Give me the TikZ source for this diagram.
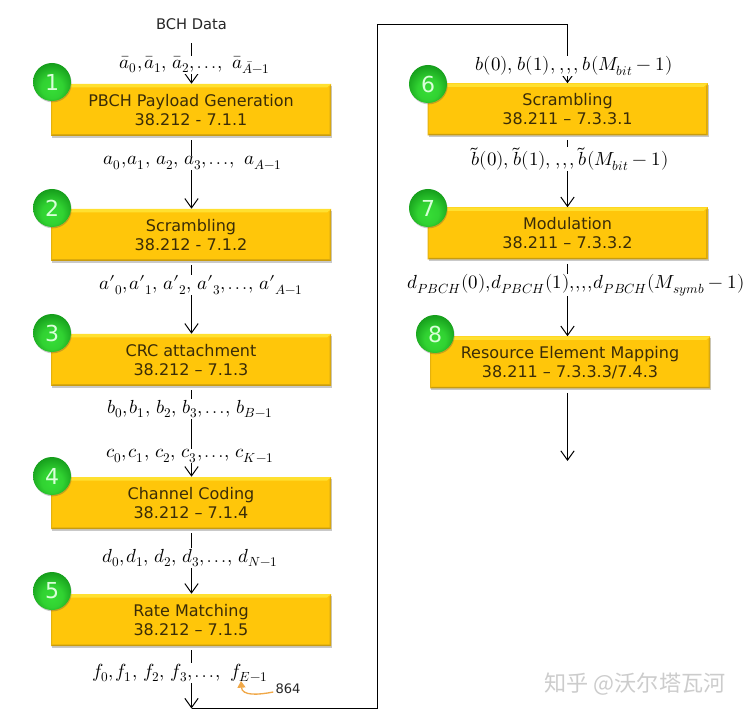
\documentclass[tikz,border=0pt]{standalone}
\usepackage{fontspec}
\usepackage{unicode-math}
\setmainfont{DejaVu Sans}
\setmathfont{Latin Modern Math}
\newfontfamily\cjkfont{Noto Sans CJK SC}
\usetikzlibrary{arrows.meta,shadows,calc}
\definecolor{boxfill}{HTML}{FFC60A}
\definecolor{boxtop}{HTML}{FFE030}
\definecolor{boxright}{HTML}{D8A810}
\definecolor{boxbot}{HTML}{C89C10}
\definecolor{boxtext}{HTML}{3A2C08}
\definecolor{ballmid}{HTML}{36DC36}
\definecolor{balledge}{HTML}{149A1A}
\definecolor{orangearrow}{HTML}{F0A848}
\pgfdeclareradialshading{greenball}{\pgfpoint{0bp}{-10bp}}{
  color(0bp)=(ballmid); color(14bp)=(ballmid!85!balledge); color(30bp)=(balledge); color(36bp)=(balledge!88!black); color(50bp)=(balledge!80!black)}
\tikzset{
  x=0.75pt,y=-0.75pt,
  conn/.style={draw=black,line width=0.75pt,-{Straight Barb[length=7pt,width=10pt,line width=0.75pt]}},
  plainconn/.style={draw=black,line width=0.75pt},
  procbox/.style={minimum width=210pt,minimum height=39pt,inner sep=0pt,align=center,
    fill=boxfill,text=boxtext,font=\fontsize{12pt}{14.2pt}\selectfont,
    execute at begin node={\vspace{1.5pt}},
    drop shadow={shadow xshift=0.8pt,shadow yshift=-1.2pt,opacity=0.3,fill=black!70},
    path picture={
      \coordinate (nw) at (path picture bounding box.north west);
      \coordinate (se) at (path picture bounding box.south east);
      \fill[boxtop] (nw) -- (nw-|se) -- ($(nw-|se)+(-4,3.5)$) -- ($(nw)+(4,3.5)$) -- cycle;
      \fill[boxright] (nw-|se) -- (se) -- ($(se)+(-1.5,-1.5)$) -- ($(nw-|se)+(-1.5,3)$) -- cycle;
      \fill[boxbot] (se) -- (se-|nw) -- ($(se-|nw)+(1.5,-1.5)$) -- ($(se)+(-1.5,-1.5)$) -- cycle;
      \fill[boxright!70!boxfill] (nw) -- (se-|nw) -- ($(se-|nw)+(1,-1.5)$) -- ($(nw)+(1,3)$) -- cycle;
    }},
  badge/.style={circle,minimum size=28.5pt,inner sep=0pt,shading=greenball,text=white!85!green,
    font=\fontsize{16.5pt}{18pt}\selectfont,
    drop shadow={shadow xshift=0.5pt,shadow yshift=-1pt,opacity=0.3,fill=black!70}},
  siglabel/.style={fill=white,inner xsep=1pt,inner ysep=0.5pt,text=black,font=\fontsize{14.2pt}{16pt}\selectfont},
  plaintext/.style={text=black!85,font=\fontsize{11pt}{13pt}\selectfont},
}
\newcommand{\gap}{\mskip 4mu}
\newcommand{\cm}{\mathord{,}\mskip 1.5mu}
\newcommand{\cmw}{\mathord{,}\mskip 4mu}
\newcommand{\cmn}{\mathord{,}\mskip 0.8mu}
\newcommand{\pr}{\mathord{\prime}}
\newcommand{\dts}{\mathord{\ldotp\mkern-1mu\ldotp\mkern-1mu\ldotp}\mskip 1mu}
\begin{document}
\begin{tikzpicture}
\useasboundingbox (0,0) rectangle (746,716);
% start and free ends
\node[plaintext,minimum height=28.5pt,inner sep=0pt] (bch) at (191.5,24) {BCH Data};
\coordinate (leftend) at (191.5,708.5);
\coordinate (rightend) at (567.5,461);
\coordinate (upleft) at (377.5,708.5);
\coordinate (upright) at (377.5,24.5);
\coordinate (topright) at (567.5,24.5);
% boxes
\node[procbox] (b1) at (191,110) {PBCH Payload Generation\\38.212 - 7.1.1};
\node[procbox] (b2) at (191,235) {Scrambling\\38.212 - 7.1.2};
\node[procbox] (b3) at (191,360) {CRC attachment\\38.212 – 7.1.3};
\node[procbox] (b4) at (191,503) {Channel Coding\\38.212 – 7.1.4};
\node[procbox] (b5) at (191,620) {Rate Matching\\38.212 – 7.1.5};
\node[procbox] (b6) at (567.5,109.5) {Scrambling\\38.211 – 7.3.3.1};
\node[procbox] (b7) at (567.5,233.5) {Modulation\\38.211 – 7.3.3.2};
\node[procbox] (b8) at (570,362.5) {Resource Element Mapping\\38.211 – 7.3.3.3/7.4.3};
% badges
\node[badge] (n1) at (52,82) {1};
\node[badge] (n2) at (52,208) {2};
\node[badge] (n3) at (52,333) {3};
\node[badge] (n4) at (52,476) {4};
\node[badge] (n5) at (52,591) {5};
\node[badge] (n6) at (428,84) {6};
\node[badge] (n7) at (428,208) {7};
\node[badge] (n8) at (435,334) {8};
% connectors
\draw[conn] (bch.south) -- (bch.south|-b1.north);
\draw[conn,shorten <=3pt] (bch.south|-b1.south) -- (bch.south|-b2.north);
\draw[conn,shorten <=3pt] (bch.south|-b2.south) -- (bch.south|-b3.north);
\draw[conn,shorten <=3pt] (bch.south|-b3.south) -- (bch.south|-b4.north);
\draw[conn,shorten <=3pt] (bch.south|-b4.south) -- (bch.south|-b5.north);
\draw[conn,shorten <=3pt] (b5.south-|leftend) -- (leftend);
\draw[plainconn] (leftend) -- (upleft) -- (upright) -- (topright);
\draw[conn] (topright) -- (b6.north);
\draw[conn,shorten <=3pt] (b6.south) -- (b7.north);
\draw[conn,shorten <=3pt] (b7.south) -- (b7.south|-b8.north);
\draw[conn,shorten <=3pt] (b8.south-|rightend) -- (rightend);
% signal labels
\node[siglabel] (s0) at (195,65) {$\bar a_0\cm\bar a_1\cm\gap\bar a_2\cm\dts\cm\gap\gap\bar a_{\bar A-1}$};
\node[siglabel] (s1) at (193,163) {$a_0\cm a_1\cm\gap a_2\cm\gap a_3\cm\dts\cm\gap\gap a_{A-1}$};
\node[siglabel] (s2) at (201,285) {$a\pr_0\cm a\pr_1\cm\gap a\pr_2\cm\gap a\pr_3\cm\dts\cm\gap a\pr_{A-1}$};
\node[siglabel] (s3) at (190,409) {$b_0\cm b_1\cm\gap b_2\cm\gap b_3\cm\dts\cm\gap b_{B-1}$};
\node[siglabel] (s4) at (190,456) {$c_0\cm c_1\cm\gap c_2\cm\gap c_3\cm\dts\cm\gap c_{K-1}$};
\node[siglabel] (s5) at (190,558) {$d_0\cm d_1\cm\gap d_2\cm\gap d_3\cm\dts\cm\gap d_{N-1}$};
\node[siglabel] (s6) at (180,673) {$f_0\cm f_1\cm\gap f_2\cm\gap f_3\cm\dts\cm\gap\gap f_{E-1}$};
\node[siglabel] (s7) at (574,66) {$b(0)\cmw b(1)\cmw\cm\cm\cmw b(M_{bit}-1)$};
\node[siglabel] (s8) at (570,159) {$\tilde b(0)\cmw\tilde b(1)\cmw\cm\cm\cmw\tilde b(M_{bit}-1)$};
\node[siglabel] (s9) at (576,285) {$d_{PBCH}(0)\cmn d_{PBCH}(1)\cmn\cmn\cmn\cmn d_{PBCH}(M_{symb}-1)$};
% annotation
\node[inner sep=0pt,text=black!85,font=\fontsize{9.8pt}{10pt}\selectfont] (n864) at (288,689) {864};
\draw[orangearrow,line width=1pt,-{Triangle[length=5pt,width=6pt]}] (n864.west)++(-2,3) .. controls (258,695) and (242,696) .. (241,681);
% watermark
\node[inner sep=0pt,text=black!20,font=\cjkfont\fontsize{16.6pt}{18pt}\selectfont] (wm) at (635,684) {知乎 @沃尔塔瓦河};
\end{tikzpicture}
\end{document}
